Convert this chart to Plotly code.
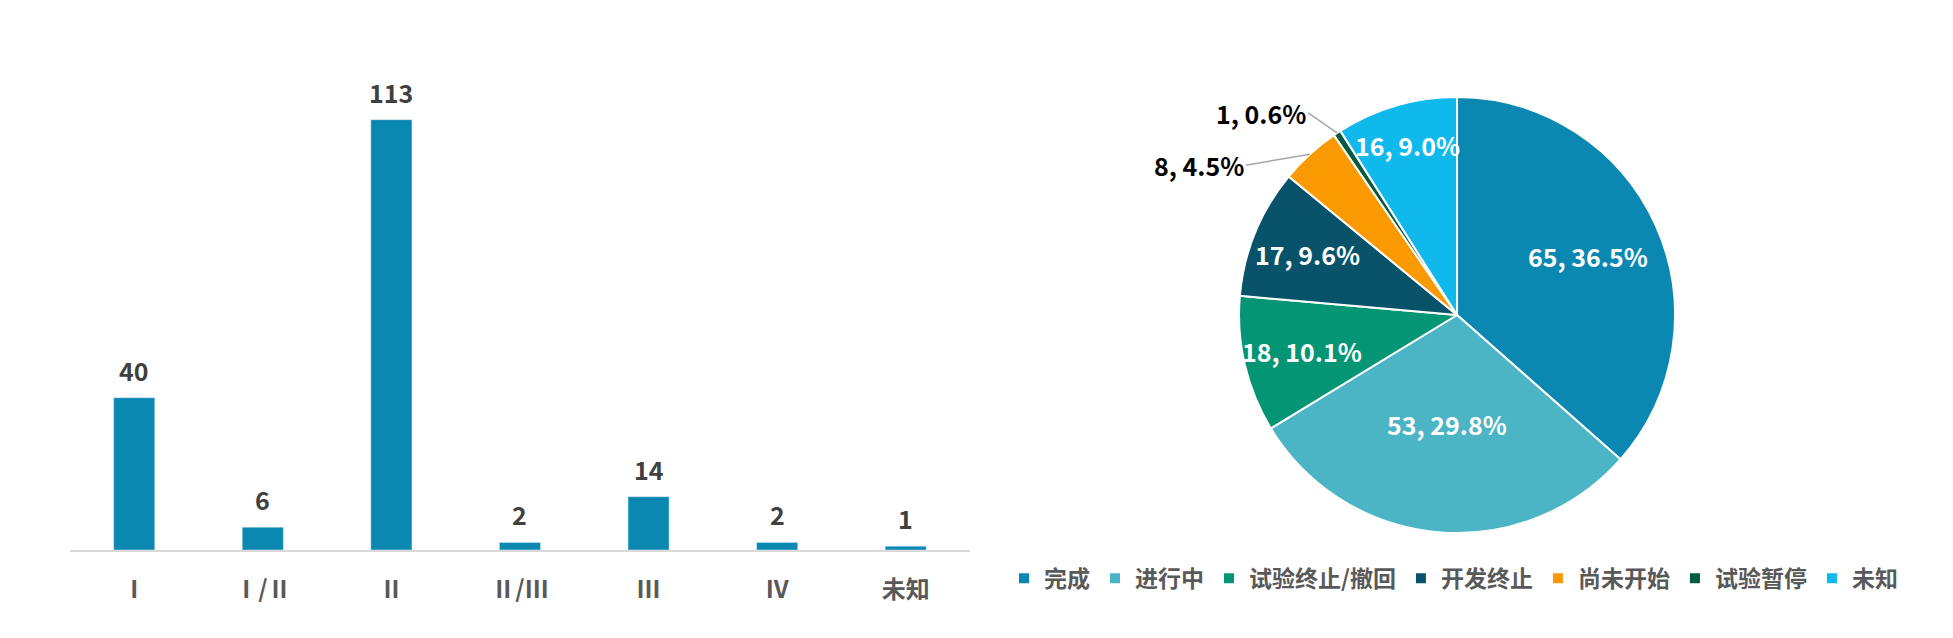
import math
import plotly.graph_objects as go

# bar chart: trials by phase
phases = ['Ⅰ', 'Ⅰ/Ⅱ', 'Ⅱ', 'Ⅱ/Ⅲ', 'Ⅲ', 'Ⅳ', '未知']
phase_counts = [40, 6, 113, 2, 14, 2, 1]

# pie chart: trial status
status_labels = ['完成', '进行中', '试验终止/撤回', '开发终止', '尚未开始', '试验暂停', '未知']
status_counts = [65, 53, 18, 17, 8, 1, 16]

# label styling for the pie (radius as fraction of pie radius, None -> outside w/ leader)
status_colors = ['#0A88B2', '#4BB4C5', '#049674', '#08526A', '#FB9A00', '#055A42', '#10B9EC']
label_radius = [0.66, 0.50, 0.73, 0.74, None, None, 0.81]
leader_offset = {4: (-64, 11), 5: (-29, -20)}

FONT = 'Noto Sans CJK SC'
W, H = 1953, 638
MT, MB = 85, 96
PH = H - MT - MB
pie_x = [0.6303, 0.8536]
pie_y = [0.0372, 0.9912]

fig = go.Figure()
fig.add_trace(go.Bar(x=phases, y=phase_counts, marker_color='#0A88B2',
                     showlegend=False, hoverinfo='x+y'))

for p, c in zip(phases, phase_counts):
    fig.add_annotation(x=p, y=c, text='<b>%d</b>' % c, showarrow=False,
                       yanchor='bottom', yshift=8,
                       font=dict(family=FONT, size=25, color='#404040'))

fig.add_trace(go.Pie(labels=status_labels, values=status_counts, sort=False,
                     direction='clockwise', rotation=0, textinfo='none',
                     marker=dict(colors=status_colors, line=dict(color='white', width=2)),
                     domain=dict(x=pie_x, y=pie_y)))

# value labels on the pie, placed along each slice's mid angle
total = sum(status_counts)
cx = sum(pie_x) / 2
cy = sum(pie_y) / 2
R = (pie_y[1] - pie_y[0]) * PH / 2
cum = 0
for i, v in enumerate(status_counts):
    mid = (cum + v / 2) / total * 2 * math.pi
    cum += v
    txt = '<b>%d, %.1f%%</b>' % (v, v / total * 100)
    if label_radius[i] is not None:
        r = label_radius[i] * R
        fig.add_annotation(xref='paper', yref='paper',
                           x=cx + r * math.sin(mid) / W, y=cy + r * math.cos(mid) / PH,
                           text=txt, showarrow=False, xanchor='center', yanchor='middle',
                           font=dict(family=FONT, size=25, color='white'))
    else:
        ax, ay = leader_offset[i]
        fig.add_annotation(xref='paper', yref='paper',
                           x=cx + R * math.sin(mid) / W, y=cy + R * math.cos(mid) / PH,
                           text=txt, showarrow=True, arrowhead=0, arrowwidth=1.5,
                           arrowcolor='#A6A6A6', ax=ax, ay=ay, xanchor='right',
                           standoff=0, startstandoff=0,
                           font=dict(family=FONT, size=25, color='black'))

fig.update_layout(
    width=W, height=H,
    margin=dict(l=0, r=0, t=MT, b=MB),
    paper_bgcolor='white', plot_bgcolor='white',
    font=dict(family=FONT),
    bargap=0.68,
    xaxis=dict(domain=[0.0317, 0.4926], showline=True, linecolor='#D9D9D9', linewidth=2,
               showgrid=False, ticks='', ticklabelstandoff=17,
               tickfont=dict(family=FONT, size=24, color='#595959', weight='bold')),
    yaxis=dict(range=[0, 120], visible=False),
    legend=dict(orientation='h', x=0.51, xanchor='left', y=-0.062, yanchor='middle',
                font=dict(family=FONT, size=23, color='#595959', weight='bold'),
                itemclick=False),
)

fig.write_html('out.html')
